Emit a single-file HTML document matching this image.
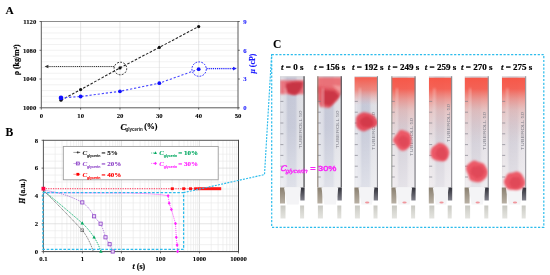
<!DOCTYPE html>
<html><head><meta charset="utf-8"><title>Figure</title><style>
html,body{margin:0;padding:0;background:#fff;}
svg{display:block;}
.tv{font-family:'Liberation Sans',sans-serif;font-size:4.4px;fill:#7c7c86;}
</style></head>
<body><svg width="550" height="275" viewBox="0 0 550 275">
<rect width="550" height="275" fill="#fff"/>
<defs>
<linearGradient id="tb" x1="0" x2="1" y1="0" y2="0">
<stop offset="0" stop-color="#d2d3da"/><stop offset="0.08" stop-color="#e2e3ea"/><stop offset="0.2" stop-color="#d4d6e0"/><stop offset="0.3" stop-color="#c4c7d6"/><stop offset="0.62" stop-color="#c6c9d8"/><stop offset="0.72" stop-color="#dcdde4"/><stop offset="1" stop-color="#e2e2e6"/>
</linearGradient>
<linearGradient id="tbp" x1="0" x2="1" y1="0" y2="0">
<stop offset="0" stop-color="#d6d0d4"/><stop offset="0.08" stop-color="#e6e0e4"/><stop offset="0.2" stop-color="#dcd6dc"/><stop offset="0.3" stop-color="#cecad4"/><stop offset="0.62" stop-color="#d0ccd6"/><stop offset="0.72" stop-color="#e0dce2"/><stop offset="1" stop-color="#e4e0e6"/>
</linearGradient>
<linearGradient id="vshade" x1="0" x2="0" y1="0" y2="1">
<stop offset="0" stop-color="#ffffff" stop-opacity="0"/><stop offset="0.45" stop-color="#ffffff" stop-opacity="0.05"/><stop offset="1" stop-color="#ffffff" stop-opacity="0.45"/>
</linearGradient>
<linearGradient id="rfade" x1="0" x2="0" y1="0" y2="1">
<stop offset="0" stop-color="#f85444" stop-opacity="0.97"/><stop offset="0.17" stop-color="#f65a4c" stop-opacity="0.93"/><stop offset="0.33" stop-color="#f0847a" stop-opacity="0.72"/><stop offset="0.5" stop-color="#e8aaa4" stop-opacity="0.5"/><stop offset="0.75" stop-color="#e0bcbc" stop-opacity="0.3"/><stop offset="1" stop-color="#e0c8c8" stop-opacity="0"/>
</linearGradient>
<linearGradient id="rfade2" x1="0" x2="0" y1="0" y2="1">
<stop offset="0" stop-color="#f85646" stop-opacity="0.95"/><stop offset="0.45" stop-color="#f27468" stop-opacity="0.8"/><stop offset="1" stop-color="#eab0b0" stop-opacity="0"/>
</linearGradient>
<linearGradient id="lg1" x1="0" x2="0" y1="0" y2="1">
<stop offset="0" stop-color="#c8c8c2"/><stop offset="0.5" stop-color="#d8d8d2"/><stop offset="1" stop-color="#e4e4e0"/>
</linearGradient>
<linearGradient id="brn" x1="0" x2="0" y1="0" y2="1">
<stop offset="0" stop-color="#8a8070"/><stop offset="1" stop-color="#b8b0a4"/>
</linearGradient>
<linearGradient id="drk" x1="0" x2="0" y1="0" y2="1">
<stop offset="0" stop-color="#303038"/><stop offset="1" stop-color="#80808a"/>
</linearGradient>
<filter id="bl1" x="-30%" y="-30%" width="160%" height="160%"><feGaussianBlur stdDeviation="0.9"/></filter>
<filter id="bl2" x="-30%" y="-30%" width="160%" height="160%"><feGaussianBlur stdDeviation="0.6"/></filter>
</defs>
<line x1="41.3" y1="102.05" x2="238.0" y2="102.05" stroke="#eaeaea" stroke-width="0.6"/>
<line x1="41.3" y1="96.29" x2="238.0" y2="96.29" stroke="#eaeaea" stroke-width="0.6"/>
<line x1="41.3" y1="90.54" x2="238.0" y2="90.54" stroke="#eaeaea" stroke-width="0.6"/>
<line x1="41.3" y1="84.79" x2="238.0" y2="84.79" stroke="#eaeaea" stroke-width="0.6"/>
<line x1="41.3" y1="79.03" x2="238.0" y2="79.03" stroke="#eaeaea" stroke-width="0.6"/>
<line x1="41.3" y1="73.28" x2="238.0" y2="73.28" stroke="#eaeaea" stroke-width="0.6"/>
<line x1="41.3" y1="67.53" x2="238.0" y2="67.53" stroke="#eaeaea" stroke-width="0.6"/>
<line x1="41.3" y1="61.77" x2="238.0" y2="61.77" stroke="#eaeaea" stroke-width="0.6"/>
<line x1="41.3" y1="56.02" x2="238.0" y2="56.02" stroke="#eaeaea" stroke-width="0.6"/>
<line x1="41.3" y1="50.27" x2="238.0" y2="50.27" stroke="#eaeaea" stroke-width="0.6"/>
<line x1="41.3" y1="44.51" x2="238.0" y2="44.51" stroke="#eaeaea" stroke-width="0.6"/>
<line x1="41.3" y1="38.76" x2="238.0" y2="38.76" stroke="#eaeaea" stroke-width="0.6"/>
<line x1="41.3" y1="33.01" x2="238.0" y2="33.01" stroke="#eaeaea" stroke-width="0.6"/>
<line x1="41.3" y1="27.25" x2="238.0" y2="27.25" stroke="#eaeaea" stroke-width="0.6"/>
<line x1="80.64" y1="21.5" x2="80.64" y2="107.8" stroke="#d6d6d6" stroke-width="0.6"/>
<line x1="119.98" y1="21.5" x2="119.98" y2="107.8" stroke="#d6d6d6" stroke-width="0.6"/>
<line x1="159.32" y1="21.5" x2="159.32" y2="107.8" stroke="#d6d6d6" stroke-width="0.6"/>
<line x1="198.66" y1="21.5" x2="198.66" y2="107.8" stroke="#d6d6d6" stroke-width="0.6"/>
<line x1="41.3" y1="21.5" x2="238.0" y2="21.5" stroke="#808080" stroke-width="0.9"/>
<line x1="41.3" y1="21.1" x2="41.3" y2="107.8" stroke="#4a4a4a" stroke-width="0.9"/>
<line x1="238.0" y1="21.1" x2="238.0" y2="107.8" stroke="#4a4a4a" stroke-width="0.9"/>
<line x1="41.3" y1="107.8" x2="238.4" y2="107.8" stroke="#4a4a4a" stroke-width="0.9"/>
<line x1="39.5" y1="107.80" x2="41.3" y2="107.80" stroke="#444" stroke-width="0.8"/>
<text x="36.30" y="110.10" text-anchor="end" style="font-family:'Liberation Serif', serif;font-size:6.7px;font-weight:bold;fill:#000;stroke:#000;stroke-width:0.1px;" >1000</text>
<line x1="39.5" y1="79.03" x2="41.3" y2="79.03" stroke="#444" stroke-width="0.8"/>
<text x="36.30" y="81.33" text-anchor="end" style="font-family:'Liberation Serif', serif;font-size:6.7px;font-weight:bold;fill:#000;stroke:#000;stroke-width:0.1px;" >1040</text>
<line x1="39.5" y1="50.27" x2="41.3" y2="50.27" stroke="#444" stroke-width="0.8"/>
<text x="36.30" y="52.57" text-anchor="end" style="font-family:'Liberation Serif', serif;font-size:6.7px;font-weight:bold;fill:#000;stroke:#000;stroke-width:0.1px;" >1080</text>
<line x1="39.5" y1="21.50" x2="41.3" y2="21.50" stroke="#444" stroke-width="0.8"/>
<text x="36.30" y="23.80" text-anchor="end" style="font-family:'Liberation Serif', serif;font-size:6.7px;font-weight:bold;fill:#000;stroke:#000;stroke-width:0.1px;" >1120</text>
<line x1="238.0" y1="107.80" x2="239.8" y2="107.80" stroke="#444" stroke-width="0.8"/>
<text x="243.20" y="110.10" text-anchor="start" style="font-family:'Liberation Serif', serif;font-size:6.7px;font-weight:bold;fill:#1a1aff;stroke:#1a1aff;stroke-width:0.1px;" >0</text>
<line x1="238.0" y1="79.03" x2="239.8" y2="79.03" stroke="#444" stroke-width="0.8"/>
<text x="243.20" y="81.33" text-anchor="start" style="font-family:'Liberation Serif', serif;font-size:6.7px;font-weight:bold;fill:#1a1aff;stroke:#1a1aff;stroke-width:0.1px;" >3</text>
<line x1="238.0" y1="50.27" x2="239.8" y2="50.27" stroke="#444" stroke-width="0.8"/>
<text x="243.20" y="52.57" text-anchor="start" style="font-family:'Liberation Serif', serif;font-size:6.7px;font-weight:bold;fill:#1a1aff;stroke:#1a1aff;stroke-width:0.1px;" >6</text>
<line x1="238.0" y1="21.50" x2="239.8" y2="21.50" stroke="#444" stroke-width="0.8"/>
<text x="243.20" y="23.80" text-anchor="start" style="font-family:'Liberation Serif', serif;font-size:6.7px;font-weight:bold;fill:#1a1aff;stroke:#1a1aff;stroke-width:0.1px;" >9</text>
<line x1="41.30" y1="107.8" x2="41.30" y2="109.6" stroke="#444" stroke-width="0.8"/>
<text x="41.30" y="118.10" text-anchor="middle" style="font-family:'Liberation Serif', serif;font-size:6.7px;font-weight:bold;fill:#000;stroke:#000;stroke-width:0.1px;" >0</text>
<line x1="80.64" y1="107.8" x2="80.64" y2="109.6" stroke="#444" stroke-width="0.8"/>
<text x="80.64" y="118.10" text-anchor="middle" style="font-family:'Liberation Serif', serif;font-size:6.7px;font-weight:bold;fill:#000;stroke:#000;stroke-width:0.1px;" >10</text>
<line x1="119.98" y1="107.8" x2="119.98" y2="109.6" stroke="#444" stroke-width="0.8"/>
<text x="119.98" y="118.10" text-anchor="middle" style="font-family:'Liberation Serif', serif;font-size:6.7px;font-weight:bold;fill:#000;stroke:#000;stroke-width:0.1px;" >20</text>
<line x1="159.32" y1="107.8" x2="159.32" y2="109.6" stroke="#444" stroke-width="0.8"/>
<text x="159.32" y="118.10" text-anchor="middle" style="font-family:'Liberation Serif', serif;font-size:6.7px;font-weight:bold;fill:#000;stroke:#000;stroke-width:0.1px;" >30</text>
<line x1="198.66" y1="107.8" x2="198.66" y2="109.6" stroke="#444" stroke-width="0.8"/>
<text x="198.66" y="118.10" text-anchor="middle" style="font-family:'Liberation Serif', serif;font-size:6.7px;font-weight:bold;fill:#000;stroke:#000;stroke-width:0.1px;" >40</text>
<line x1="238.00" y1="107.8" x2="238.00" y2="109.6" stroke="#444" stroke-width="0.8"/>
<text x="238.00" y="118.10" text-anchor="middle" style="font-family:'Liberation Serif', serif;font-size:6.7px;font-weight:bold;fill:#000;stroke:#000;stroke-width:0.1px;" >50</text>
<polyline points="60.97,100.25 80.64,89.61 119.98,67.89 159.32,47.39 198.66,26.53" fill="none" stroke="#222" stroke-width="1.05" stroke-dasharray="2.6,1.6"/>
<polyline points="60.97,97.92 80.64,96.49 119.98,91.31 159.32,83.16 198.66,69.16" fill="none" stroke="#4646ff" stroke-width="1.15" stroke-dasharray="2.2,1.9"/>
<circle cx="60.97" cy="100.25" r="1.6" fill="#111"/>
<circle cx="80.64" cy="89.61" r="1.6" fill="#111"/>
<circle cx="119.98" cy="67.89" r="1.6" fill="#111"/>
<circle cx="159.32" cy="47.39" r="1.6" fill="#111"/>
<circle cx="198.66" cy="26.53" r="1.6" fill="#111"/>
<circle cx="60.97" cy="97.92" r="2.3" fill="#1010ff"/>
<circle cx="80.64" cy="96.49" r="1.9" fill="#1010ff"/>
<circle cx="119.98" cy="91.31" r="1.9" fill="#1010ff"/>
<circle cx="159.32" cy="83.16" r="1.9" fill="#1010ff"/>
<circle cx="198.66" cy="69.16" r="1.9" fill="#1010ff"/>
<circle cx="120.4" cy="68.5" r="6.3" fill="none" stroke="#222" stroke-width="1.0" stroke-dasharray="1.8,1.4"/>
<line x1="114.2" y1="66.5" x2="47" y2="66.5" stroke="#333" stroke-width="1.0" stroke-dasharray="1.1,0.8"/>
<path d="M44.6,66.5 L48.4,64.7 L48.4,68.3 Z" fill="#333"/>
<circle cx="199.1" cy="69.1" r="7.2" fill="none" stroke="#2020ff" stroke-width="1.0" stroke-dasharray="1.7,1.3"/>
<line x1="206.5" y1="68.6" x2="234" y2="68.6" stroke="#2020ff" stroke-width="1.1" stroke-dasharray="1.2,0.9"/>
<path d="M236.8,68.6 L233,66.8 L233,70.4 Z" fill="#2020ff"/>
<text x="5.40" y="14.00" text-anchor="start" style="font-family:'Liberation Serif', serif;font-size:11.4px;font-weight:bold;fill:#000;stroke:#000;stroke-width:0.05px;" >A</text>
<text transform="translate(19.4,59.8) rotate(-90)" text-anchor="middle" style="font-family:'Liberation Serif', serif;font-size:7.9px;font-weight:bold;fill:#000;stroke:#000;stroke-width:0.18px;" >ρ (kg/m<tspan style="font-size:4.8px" dy="-2.8">3</tspan><tspan dy="2.8">)</tspan></text>
<text transform="translate(255.4,63.6) rotate(-90)" text-anchor="middle" style="font-family:'Liberation Serif', serif;font-size:7.9px;font-weight:bold;fill:#1a1aff;stroke:#1a1aff;stroke-width:0.18px;" ><tspan style="font-style:italic">μ</tspan> (cP)</text>
<text x="120.40" y="129.60" text-anchor="start" style="font-family:'Liberation Serif', serif;font-size:8.8px;font-weight:bold;fill:#000;stroke:#000;stroke-width:0.18px;font-style:italic;" >C</text>
<text x="125.60" y="131.00" text-anchor="start" style="font-family:'Liberation Sans', sans-serif;font-size:5.0px;font-weight:bold;fill:#333;stroke:#333;stroke-width:0.1px;" textLength="17.2" lengthAdjust="spacingAndGlyphs">glycerin</text>
<text x="144.20" y="129.30" text-anchor="start" style="font-family:'Liberation Serif', serif;font-size:8.0px;font-weight:bold;fill:#000;stroke:#000;stroke-width:0.18px;" >(%)</text>
<line x1="55.15" y1="140.3" x2="55.15" y2="251.6" stroke="#e6e6e6" stroke-width="0.6"/>
<line x1="62.02" y1="140.3" x2="62.02" y2="251.6" stroke="#e6e6e6" stroke-width="0.6"/>
<line x1="66.89" y1="140.3" x2="66.89" y2="251.6" stroke="#e6e6e6" stroke-width="0.6"/>
<line x1="70.67" y1="140.3" x2="70.67" y2="251.6" stroke="#e6e6e6" stroke-width="0.6"/>
<line x1="73.76" y1="140.3" x2="73.76" y2="251.6" stroke="#e6e6e6" stroke-width="0.6"/>
<line x1="76.38" y1="140.3" x2="76.38" y2="251.6" stroke="#e6e6e6" stroke-width="0.6"/>
<line x1="78.64" y1="140.3" x2="78.64" y2="251.6" stroke="#e6e6e6" stroke-width="0.6"/>
<line x1="80.63" y1="140.3" x2="80.63" y2="251.6" stroke="#e6e6e6" stroke-width="0.6"/>
<line x1="82.42" y1="140.3" x2="82.42" y2="251.6" stroke="#cdcdcd" stroke-width="0.6"/>
<line x1="94.17" y1="140.3" x2="94.17" y2="251.6" stroke="#e6e6e6" stroke-width="0.6"/>
<line x1="101.04" y1="140.3" x2="101.04" y2="251.6" stroke="#e6e6e6" stroke-width="0.6"/>
<line x1="105.91" y1="140.3" x2="105.91" y2="251.6" stroke="#e6e6e6" stroke-width="0.6"/>
<line x1="109.69" y1="140.3" x2="109.69" y2="251.6" stroke="#e6e6e6" stroke-width="0.6"/>
<line x1="112.78" y1="140.3" x2="112.78" y2="251.6" stroke="#e6e6e6" stroke-width="0.6"/>
<line x1="115.40" y1="140.3" x2="115.40" y2="251.6" stroke="#e6e6e6" stroke-width="0.6"/>
<line x1="117.66" y1="140.3" x2="117.66" y2="251.6" stroke="#e6e6e6" stroke-width="0.6"/>
<line x1="119.65" y1="140.3" x2="119.65" y2="251.6" stroke="#e6e6e6" stroke-width="0.6"/>
<line x1="121.44" y1="140.3" x2="121.44" y2="251.6" stroke="#cdcdcd" stroke-width="0.6"/>
<line x1="133.19" y1="140.3" x2="133.19" y2="251.6" stroke="#e6e6e6" stroke-width="0.6"/>
<line x1="140.06" y1="140.3" x2="140.06" y2="251.6" stroke="#e6e6e6" stroke-width="0.6"/>
<line x1="144.93" y1="140.3" x2="144.93" y2="251.6" stroke="#e6e6e6" stroke-width="0.6"/>
<line x1="148.71" y1="140.3" x2="148.71" y2="251.6" stroke="#e6e6e6" stroke-width="0.6"/>
<line x1="151.80" y1="140.3" x2="151.80" y2="251.6" stroke="#e6e6e6" stroke-width="0.6"/>
<line x1="154.42" y1="140.3" x2="154.42" y2="251.6" stroke="#e6e6e6" stroke-width="0.6"/>
<line x1="156.68" y1="140.3" x2="156.68" y2="251.6" stroke="#e6e6e6" stroke-width="0.6"/>
<line x1="158.67" y1="140.3" x2="158.67" y2="251.6" stroke="#e6e6e6" stroke-width="0.6"/>
<line x1="160.46" y1="140.3" x2="160.46" y2="251.6" stroke="#cdcdcd" stroke-width="0.6"/>
<line x1="172.21" y1="140.3" x2="172.21" y2="251.6" stroke="#e6e6e6" stroke-width="0.6"/>
<line x1="179.08" y1="140.3" x2="179.08" y2="251.6" stroke="#e6e6e6" stroke-width="0.6"/>
<line x1="183.95" y1="140.3" x2="183.95" y2="251.6" stroke="#e6e6e6" stroke-width="0.6"/>
<line x1="187.73" y1="140.3" x2="187.73" y2="251.6" stroke="#e6e6e6" stroke-width="0.6"/>
<line x1="190.82" y1="140.3" x2="190.82" y2="251.6" stroke="#e6e6e6" stroke-width="0.6"/>
<line x1="193.44" y1="140.3" x2="193.44" y2="251.6" stroke="#e6e6e6" stroke-width="0.6"/>
<line x1="195.70" y1="140.3" x2="195.70" y2="251.6" stroke="#e6e6e6" stroke-width="0.6"/>
<line x1="197.69" y1="140.3" x2="197.69" y2="251.6" stroke="#e6e6e6" stroke-width="0.6"/>
<line x1="199.48" y1="140.3" x2="199.48" y2="251.6" stroke="#cdcdcd" stroke-width="0.6"/>
<line x1="211.23" y1="140.3" x2="211.23" y2="251.6" stroke="#e6e6e6" stroke-width="0.6"/>
<line x1="218.10" y1="140.3" x2="218.10" y2="251.6" stroke="#e6e6e6" stroke-width="0.6"/>
<line x1="222.97" y1="140.3" x2="222.97" y2="251.6" stroke="#e6e6e6" stroke-width="0.6"/>
<line x1="226.75" y1="140.3" x2="226.75" y2="251.6" stroke="#e6e6e6" stroke-width="0.6"/>
<line x1="229.84" y1="140.3" x2="229.84" y2="251.6" stroke="#e6e6e6" stroke-width="0.6"/>
<line x1="232.46" y1="140.3" x2="232.46" y2="251.6" stroke="#e6e6e6" stroke-width="0.6"/>
<line x1="234.72" y1="140.3" x2="234.72" y2="251.6" stroke="#e6e6e6" stroke-width="0.6"/>
<line x1="236.71" y1="140.3" x2="236.71" y2="251.6" stroke="#e6e6e6" stroke-width="0.6"/>
<line x1="43.4" y1="244.64" x2="238.5" y2="244.64" stroke="#e9e9e9" stroke-width="0.6"/>
<line x1="43.4" y1="237.69" x2="238.5" y2="237.69" stroke="#e9e9e9" stroke-width="0.6"/>
<line x1="43.4" y1="230.73" x2="238.5" y2="230.73" stroke="#e9e9e9" stroke-width="0.6"/>
<line x1="43.4" y1="223.78" x2="238.5" y2="223.78" stroke="#d2d2d2" stroke-width="0.6"/>
<line x1="43.4" y1="216.82" x2="238.5" y2="216.82" stroke="#e9e9e9" stroke-width="0.6"/>
<line x1="43.4" y1="209.86" x2="238.5" y2="209.86" stroke="#e9e9e9" stroke-width="0.6"/>
<line x1="43.4" y1="202.91" x2="238.5" y2="202.91" stroke="#e9e9e9" stroke-width="0.6"/>
<line x1="43.4" y1="195.95" x2="238.5" y2="195.95" stroke="#d2d2d2" stroke-width="0.6"/>
<line x1="43.4" y1="188.99" x2="238.5" y2="188.99" stroke="#e9e9e9" stroke-width="0.6"/>
<line x1="43.4" y1="182.04" x2="238.5" y2="182.04" stroke="#e9e9e9" stroke-width="0.6"/>
<line x1="43.4" y1="175.08" x2="238.5" y2="175.08" stroke="#e9e9e9" stroke-width="0.6"/>
<line x1="43.4" y1="168.12" x2="238.5" y2="168.12" stroke="#d2d2d2" stroke-width="0.6"/>
<line x1="43.4" y1="161.17" x2="238.5" y2="161.17" stroke="#e9e9e9" stroke-width="0.6"/>
<line x1="43.4" y1="154.21" x2="238.5" y2="154.21" stroke="#e9e9e9" stroke-width="0.6"/>
<line x1="43.4" y1="147.26" x2="238.5" y2="147.26" stroke="#e9e9e9" stroke-width="0.6"/>
<line x1="43.4" y1="140.3" x2="238.5" y2="140.3" stroke="#555" stroke-width="1.0"/>
<line x1="43.4" y1="139.8" x2="43.4" y2="251.6" stroke="#444" stroke-width="0.9"/>
<line x1="238.5" y1="139.8" x2="238.5" y2="251.6" stroke="#444" stroke-width="1.0"/>
<line x1="43.4" y1="251.6" x2="239.0" y2="251.6" stroke="#333" stroke-width="0.9"/>
<line x1="41.6" y1="251.60" x2="43.4" y2="251.60" stroke="#444" stroke-width="0.8"/>
<text x="38.10" y="253.90" text-anchor="end" style="font-family:'Liberation Serif', serif;font-size:6.7px;font-weight:bold;fill:#000;stroke:#000;stroke-width:0.1px;" >0</text>
<line x1="41.6" y1="223.78" x2="43.4" y2="223.78" stroke="#444" stroke-width="0.8"/>
<text x="38.10" y="226.08" text-anchor="end" style="font-family:'Liberation Serif', serif;font-size:6.7px;font-weight:bold;fill:#000;stroke:#000;stroke-width:0.1px;" >2</text>
<line x1="41.6" y1="195.95" x2="43.4" y2="195.95" stroke="#444" stroke-width="0.8"/>
<text x="38.10" y="198.25" text-anchor="end" style="font-family:'Liberation Serif', serif;font-size:6.7px;font-weight:bold;fill:#000;stroke:#000;stroke-width:0.1px;" >4</text>
<line x1="41.6" y1="168.12" x2="43.4" y2="168.12" stroke="#444" stroke-width="0.8"/>
<text x="38.10" y="170.43" text-anchor="end" style="font-family:'Liberation Serif', serif;font-size:6.7px;font-weight:bold;fill:#000;stroke:#000;stroke-width:0.1px;" >6</text>
<line x1="41.6" y1="140.30" x2="43.4" y2="140.30" stroke="#444" stroke-width="0.8"/>
<text x="38.10" y="142.60" text-anchor="end" style="font-family:'Liberation Serif', serif;font-size:6.7px;font-weight:bold;fill:#000;stroke:#000;stroke-width:0.1px;" >8</text>
<line x1="43.40" y1="251.6" x2="43.40" y2="253.4" stroke="#444" stroke-width="0.8"/>
<text x="43.40" y="261.40" text-anchor="middle" style="font-family:'Liberation Serif', serif;font-size:6.7px;font-weight:bold;fill:#000;stroke:#000;stroke-width:0.1px;" >0.1</text>
<line x1="82.42" y1="251.6" x2="82.42" y2="253.4" stroke="#444" stroke-width="0.8"/>
<text x="82.42" y="261.40" text-anchor="middle" style="font-family:'Liberation Serif', serif;font-size:6.7px;font-weight:bold;fill:#000;stroke:#000;stroke-width:0.1px;" >1</text>
<line x1="121.44" y1="251.6" x2="121.44" y2="253.4" stroke="#444" stroke-width="0.8"/>
<text x="121.44" y="261.40" text-anchor="middle" style="font-family:'Liberation Serif', serif;font-size:6.7px;font-weight:bold;fill:#000;stroke:#000;stroke-width:0.1px;" >10</text>
<line x1="160.46" y1="251.6" x2="160.46" y2="253.4" stroke="#444" stroke-width="0.8"/>
<text x="160.46" y="261.40" text-anchor="middle" style="font-family:'Liberation Serif', serif;font-size:6.7px;font-weight:bold;fill:#000;stroke:#000;stroke-width:0.1px;" >100</text>
<line x1="199.48" y1="251.6" x2="199.48" y2="253.4" stroke="#444" stroke-width="0.8"/>
<text x="199.48" y="261.40" text-anchor="middle" style="font-family:'Liberation Serif', serif;font-size:6.7px;font-weight:bold;fill:#000;stroke:#000;stroke-width:0.1px;" >1000</text>
<line x1="238.50" y1="251.6" x2="238.50" y2="253.4" stroke="#444" stroke-width="0.8"/>
<text x="238.50" y="261.40" text-anchor="middle" style="font-family:'Liberation Serif', serif;font-size:6.7px;font-weight:bold;fill:#000;stroke:#000;stroke-width:0.1px;" >10000</text>
<rect x="63.3" y="146.4" width="154.9" height="33.4" fill="#fff" stroke="#9a9a9a" stroke-width="0.85"/>
<line x1="43.4" y1="188.7" x2="221" y2="188.7" stroke="#ff5a78" stroke-width="1.2" stroke-dasharray="1.2,1.2"/>
<polyline points="43.60,192.80 130.00,193.00 150.00,193.80 162.00,194.80 168.10,195.80 169.20,203.20 171.40,209.50 175.50,223.60 176.30,237.30 177.10,244.90 177.60,251.40" fill="none" stroke="#ff33ff" stroke-width="0.9" stroke-dasharray="1,1"/>
<path d="M168.10,194.00 L169.60,195.80 L168.10,197.60 L166.60,195.80 Z" fill="#ff22ff"/>
<path d="M169.20,201.40 L170.70,203.20 L169.20,205.00 L167.70,203.20 Z" fill="#ff22ff"/>
<path d="M171.40,207.70 L172.90,209.50 L171.40,211.30 L169.90,209.50 Z" fill="#ff22ff"/>
<path d="M175.50,221.80 L177.00,223.60 L175.50,225.40 L174.00,223.60 Z" fill="#ff22ff"/>
<path d="M176.30,235.50 L177.80,237.30 L176.30,239.10 L174.80,237.30 Z" fill="#ff22ff"/>
<path d="M177.10,243.10 L178.60,244.90 L177.10,246.70 L175.60,244.90 Z" fill="#ff22ff"/>
<path d="M177.60,249.60 L179.10,251.40 L177.60,253.20 L176.10,251.40 Z" fill="#ff22ff"/>
<path d="M43.4,190.5 Q63,209.5 82.3,230.3 Q89,238.5 93.3,251.6" fill="none" stroke="#444" stroke-width="0.8" stroke-dasharray="1.1,0.8"/>
<rect x="80.9" y="228.9" width="2.8" height="2.8" fill="none" stroke="#555" stroke-width="0.6"/>
<path d="M43.4,190.5 Q63,206.5 82.3,223.2 Q89,229.5 94.1,237.4 Q98,243 100.9,251.6" fill="none" stroke="#10b070" stroke-width="1.0" stroke-dasharray="1.3,0.9"/>
<path d="M82.30,221.30 L84.00,224.40 L80.60,224.40 Z" fill="#00a860"/>
<path d="M94.10,235.50 L95.80,238.60 L92.40,238.60 Z" fill="#00a860"/>
<path d="M100.90,249.70 L102.60,252.80 L99.20,252.80 Z" fill="#00a860"/>
<path d="M43.4,190.3 Q64,192.5 82.3,202.4 Q89,207 94.1,216.3 Q97.5,220.5 100.6,223.7 Q103.5,230 105.5,237.3 Q107.5,241 109.6,244.2 Q111.5,248 112.7,251.5" fill="none" stroke="#9a5ad0" stroke-width="0.85" stroke-dasharray="1.1,0.9"/>
<rect x="80.70" y="200.80" width="3.2" height="3.2" fill="#e8d8f4" stroke="#8e44c8" stroke-width="0.8"/>
<rect x="92.50" y="214.70" width="3.2" height="3.2" fill="#e8d8f4" stroke="#8e44c8" stroke-width="0.8"/>
<rect x="99.00" y="222.10" width="3.2" height="3.2" fill="#e8d8f4" stroke="#8e44c8" stroke-width="0.8"/>
<rect x="103.90" y="235.70" width="3.2" height="3.2" fill="#e8d8f4" stroke="#8e44c8" stroke-width="0.8"/>
<rect x="108.00" y="242.60" width="3.2" height="3.2" fill="#e8d8f4" stroke="#8e44c8" stroke-width="0.8"/>
<rect x="111.10" y="249.90" width="3.2" height="3.2" fill="#e8d8f4" stroke="#8e44c8" stroke-width="0.8"/>
<rect x="41.50" y="186.80" width="3.8" height="3.8" fill="#ff0040"/>
<rect x="170.80" y="187.30" width="3.0" height="2.8" fill="#ff1010"/>
<rect x="182.20" y="187.30" width="3.0" height="2.8" fill="#ff1010"/>
<rect x="189.00" y="187.30" width="3.0" height="2.8" fill="#ff1010"/>
<rect x="194.10" y="187.30" width="3.0" height="2.8" fill="#ff1010"/>
<rect x="197.2" y="187.20" width="24.0" height="3.0" fill="#ff1818"/>
<path d="M42.9,192.6 H183.6 V249.3 H42.9 Z" fill="none" stroke="#2cbcec" stroke-width="1.25" stroke-dasharray="2.6,1.6"/>
<polyline points="183.6,192.6 264.5,174.6 271.6,54.8" fill="none" stroke="#2cbcec" stroke-width="1.15" stroke-dasharray="2.0,1.2"/>
<line x1="73.60" y1="152.40" x2="81.00" y2="152.40" stroke="#222" stroke-width="0.7" stroke-dasharray="1,0.8"/>
<path d="M76.5,152.4 h2.6 M77.8,151.1 v2.6" stroke="#222" stroke-width="0.7"/>
<text x="82.40" y="154.80" text-anchor="start" style="font-family:'Liberation Serif', serif;font-size:7.0px;font-weight:bold;fill:#222;stroke:#222;stroke-width:0.05px;font-style:italic;" >C</text>
<text x="86.90" y="156.70" text-anchor="start" style="font-family:'Liberation Sans', sans-serif;font-size:4.3px;font-weight:bold;fill:#222;stroke:#222;stroke-width:0.08px;" textLength="13.6" lengthAdjust="spacingAndGlyphs">glycerin</text>
<text x="101.40" y="154.70" text-anchor="start" style="font-family:'Liberation Serif', serif;font-size:7.0px;font-weight:bold;fill:#222;stroke:#222;stroke-width:0.14px;" >= 5%</text>
<line x1="73.60" y1="163.50" x2="81.00" y2="163.50" stroke="#8e44c8" stroke-width="0.7" stroke-dasharray="1,0.8"/>
<rect x="76.39999999999999" y="162.1" width="2.8" height="2.8" fill="none" stroke="#8e44c8" stroke-width="0.9"/>
<text x="82.40" y="165.90" text-anchor="start" style="font-family:'Liberation Serif', serif;font-size:7.0px;font-weight:bold;fill:#8e44c8;stroke:#8e44c8;stroke-width:0.05px;font-style:italic;" >C</text>
<text x="86.90" y="167.80" text-anchor="start" style="font-family:'Liberation Sans', sans-serif;font-size:4.3px;font-weight:bold;fill:#8e44c8;stroke:#8e44c8;stroke-width:0.08px;" textLength="13.6" lengthAdjust="spacingAndGlyphs">glycerin</text>
<text x="101.40" y="165.80" text-anchor="start" style="font-family:'Liberation Serif', serif;font-size:7.0px;font-weight:bold;fill:#8e44c8;stroke:#8e44c8;stroke-width:0.14px;" >= 20%</text>
<line x1="73.60" y1="174.30" x2="81.00" y2="174.30" stroke="#ff0000" stroke-width="0.7" stroke-dasharray="1,0.8"/>
<rect x="76.39999999999999" y="172.9" width="2.8" height="2.8" fill="#ff0000"/>
<text x="82.40" y="176.70" text-anchor="start" style="font-family:'Liberation Serif', serif;font-size:7.0px;font-weight:bold;fill:#ff0000;stroke:#ff0000;stroke-width:0.05px;font-style:italic;" >C</text>
<text x="86.90" y="178.60" text-anchor="start" style="font-family:'Liberation Sans', sans-serif;font-size:4.3px;font-weight:bold;fill:#ff0000;stroke:#ff0000;stroke-width:0.08px;" textLength="13.6" lengthAdjust="spacingAndGlyphs">glycerin</text>
<text x="101.40" y="176.60" text-anchor="start" style="font-family:'Liberation Serif', serif;font-size:7.0px;font-weight:bold;fill:#ff0000;stroke:#ff0000;stroke-width:0.14px;" >= 40%</text>
<line x1="151.20" y1="153.00" x2="156.90" y2="153.00" stroke="#00a860" stroke-width="0.7" stroke-dasharray="1,0.8"/>
<path d="M155.4,151.3 L156.9,154.0 L153.9,154.0 Z" fill="#00a860"/>
<text x="159.20" y="155.40" text-anchor="start" style="font-family:'Liberation Serif', serif;font-size:7.0px;font-weight:bold;fill:#00a860;stroke:#00a860;stroke-width:0.05px;font-style:italic;" >C</text>
<text x="163.70" y="157.30" text-anchor="start" style="font-family:'Liberation Sans', sans-serif;font-size:4.3px;font-weight:bold;fill:#00a860;stroke:#00a860;stroke-width:0.08px;" textLength="13.6" lengthAdjust="spacingAndGlyphs">glycerin</text>
<text x="178.20" y="155.30" text-anchor="start" style="font-family:'Liberation Serif', serif;font-size:7.0px;font-weight:bold;fill:#00a860;stroke:#00a860;stroke-width:0.14px;" >= 10%</text>
<line x1="151.20" y1="163.40" x2="156.90" y2="163.40" stroke="#ff22ff" stroke-width="0.7" stroke-dasharray="1,0.8"/>
<path d="M155.4,161.70000000000002 L156.9,163.4 L155.4,165.1 L153.9,163.4 Z" fill="#ff22ff"/>
<text x="159.20" y="165.80" text-anchor="start" style="font-family:'Liberation Serif', serif;font-size:7.0px;font-weight:bold;fill:#ff22ff;stroke:#ff22ff;stroke-width:0.05px;font-style:italic;" >C</text>
<text x="163.70" y="167.70" text-anchor="start" style="font-family:'Liberation Sans', sans-serif;font-size:4.3px;font-weight:bold;fill:#ff22ff;stroke:#ff22ff;stroke-width:0.08px;" textLength="13.6" lengthAdjust="spacingAndGlyphs">glycerin</text>
<text x="178.20" y="165.70" text-anchor="start" style="font-family:'Liberation Serif', serif;font-size:7.0px;font-weight:bold;fill:#ff22ff;stroke:#ff22ff;stroke-width:0.14px;" >= 30%</text>
<text x="5.60" y="136.20" text-anchor="start" style="font-family:'Liberation Serif', serif;font-size:11.6px;font-weight:bold;fill:#000;stroke:#000;stroke-width:0.05px;" >B</text>
<text transform="translate(25.4,191.4) rotate(-90)" text-anchor="middle" style="font-family:'Liberation Serif', serif;font-size:7.6px;font-weight:bold;fill:#000;stroke:#000;stroke-width:0.18px;" ><tspan style="font-style:italic">H</tspan> (a.u.)</text>
<text x="132.60" y="269.40" text-anchor="start" style="font-family:'Liberation Serif', serif;font-size:7.9px;font-weight:bold;fill:#000;stroke:#000;stroke-width:0.18px;" ><tspan style="font-style:italic">t</tspan> (s)</text>
<text x="273.00" y="47.80" text-anchor="start" style="font-family:'Liberation Serif', serif;font-size:11.6px;font-weight:bold;fill:#000;stroke:#000;stroke-width:0.05px;" >C</text>
<rect x="271.7" y="54.6" width="272.1" height="172.7" fill="none" stroke="#2cbcec" stroke-width="1.2" stroke-dasharray="2.2,1.6"/>
<text x="292.30" y="70.10" text-anchor="middle" style="font-family:'Liberation Serif', serif;font-size:9px;font-weight:bold;fill:#000;stroke:#000;stroke-width:0.2px;" ><tspan style="font-style:italic">t</tspan> = 0 s</text>
<clipPath id="tc0"><rect x="280.00" y="76.2" width="24.60" height="111.30"/></clipPath>
<g clip-path="url(#tc0)">
<rect x="280.00" y="76.2" width="24.60" height="111.30" fill="url(#tb)"/>
<rect x="280.00" y="76.2" width="24.60" height="111.30" fill="url(#vshade)"/>
<rect x="280.00" y="76.2" width="24.60" height="1.2" fill="#d4d2d6"/>
<rect x="280.00" y="80.2" width="24.60" height="14" fill="#ea6a74" opacity="0.9" filter="url(#bl1)"/>
<path d="M286.00,83.5 Q295.00,80.5 303.00,82 Q303.00,90 296.00,95 Q289.00,95.5 286.00,90 Z" fill="#c63242" opacity="0.95" filter="url(#bl1)"/>
<rect x="284.50" y="88.2" width="2.2" height="97.30" fill="#ffffff" opacity="0.3" filter="url(#bl1)"/>
<text transform="translate(302.00,148.5) rotate(-90)" class="tv" textLength="38" lengthAdjust="spacingAndGlyphs">TUBEROLL 50</text>
</g>
<rect x="303.50" y="76.2" width="1.1" height="111.30" fill="#3c3c40"/>
<line x1="280.40" y1="101.40" x2="283.40" y2="101.40" stroke="#7c7c86" stroke-width="0.65"/>
<line x1="280.40" y1="112.20" x2="283.40" y2="112.20" stroke="#7c7c86" stroke-width="0.65"/>
<line x1="280.40" y1="123.00" x2="283.40" y2="123.00" stroke="#7c7c86" stroke-width="0.65"/>
<line x1="280.40" y1="133.80" x2="283.40" y2="133.80" stroke="#7c7c86" stroke-width="0.65"/>
<line x1="280.40" y1="144.60" x2="283.40" y2="144.60" stroke="#7c7c86" stroke-width="0.65"/>
<line x1="280.40" y1="155.40" x2="283.40" y2="155.40" stroke="#7c7c86" stroke-width="0.65"/>
<line x1="280.40" y1="166.20" x2="283.40" y2="166.20" stroke="#7c7c86" stroke-width="0.65"/>
<line x1="280.40" y1="177.00" x2="283.40" y2="177.00" stroke="#7c7c86" stroke-width="0.65"/>
<rect x="280.00" y="187.5" width="24.60" height="3" fill="#eeeef0"/>
<rect x="280.00" y="187.5" width="5" height="16" fill="url(#brn)"/>
<rect x="300.30" y="187.5" width="4.3" height="13" fill="url(#drk)"/>
<path d="M284.00,187.5 L301.10,187.5 L298.60,204.5 L287.00,204.5 Z" fill="#f4f4f6"/>
<rect x="280.50" y="205.5" width="5" height="13" fill="url(#lg1)"/>
<rect x="300.10" y="205.5" width="4" height="13" fill="url(#lg1)"/>
<text x="329.60" y="70.10" text-anchor="middle" style="font-family:'Liberation Serif', serif;font-size:9px;font-weight:bold;fill:#000;stroke:#000;stroke-width:0.2px;" ><tspan style="font-style:italic">t</tspan> = 156 s</text>
<clipPath id="tc1"><rect x="317.40" y="76.2" width="24.40" height="111.30"/></clipPath>
<g clip-path="url(#tc1)">
<rect x="317.40" y="76.2" width="24.40" height="111.30" fill="url(#tb)"/>
<rect x="317.40" y="76.2" width="24.40" height="111.30" fill="url(#vshade)"/>
<rect x="317.40" y="76.2" width="24.40" height="1.2" fill="#d4d2d6"/>
<rect x="317.40" y="77.2" width="24.40" height="16" fill="#ec6a70" opacity="0.92" filter="url(#bl1)"/>
<path d="M317.40,86 L332.40,88 L341.40,93 L337.40,100 L329.40,108 L320.40,107 L317.40,100 Z" fill="#e25a64" opacity="0.95" filter="url(#bl1)"/>
<path d="M323.40,90 L334.40,91 L339.40,96 L330.40,106 L323.40,104 Z" fill="#c93343" opacity="0.9" filter="url(#bl1)"/>
<path d="M332.40,85 L341.40,86 L341.40,94 Z" fill="#f4a4a4" opacity="0.8" filter="url(#bl1)"/>
<rect x="321.90" y="88.2" width="2.2" height="97.30" fill="#ffffff" opacity="0.3" filter="url(#bl1)"/>
<text transform="translate(339.20,148.5) rotate(-90)" class="tv" textLength="38" lengthAdjust="spacingAndGlyphs">TUBEROLL 50</text>
</g>
<rect x="340.70" y="76.2" width="1.1" height="111.30" fill="#4a4a50"/>
<rect x="317.40" y="76.2" width="0.9" height="111.30" fill="#7a6a5a"/>
<line x1="317.80" y1="101.40" x2="320.80" y2="101.40" stroke="#7c7c86" stroke-width="0.65"/>
<line x1="317.80" y1="112.20" x2="320.80" y2="112.20" stroke="#7c7c86" stroke-width="0.65"/>
<line x1="317.80" y1="123.00" x2="320.80" y2="123.00" stroke="#7c7c86" stroke-width="0.65"/>
<line x1="317.80" y1="133.80" x2="320.80" y2="133.80" stroke="#7c7c86" stroke-width="0.65"/>
<line x1="317.80" y1="144.60" x2="320.80" y2="144.60" stroke="#7c7c86" stroke-width="0.65"/>
<line x1="317.80" y1="155.40" x2="320.80" y2="155.40" stroke="#7c7c86" stroke-width="0.65"/>
<line x1="317.80" y1="166.20" x2="320.80" y2="166.20" stroke="#7c7c86" stroke-width="0.65"/>
<line x1="317.80" y1="177.00" x2="320.80" y2="177.00" stroke="#7c7c86" stroke-width="0.65"/>
<rect x="317.40" y="187.5" width="24.40" height="3" fill="#eeeef0"/>
<rect x="317.40" y="187.5" width="5" height="16" fill="url(#brn)"/>
<rect x="337.50" y="187.5" width="4.3" height="13" fill="url(#drk)"/>
<path d="M321.40,187.5 L338.30,187.5 L335.80,204.5 L324.40,204.5 Z" fill="#f4f4f6"/>
<rect x="317.90" y="205.5" width="5" height="13" fill="url(#lg1)"/>
<rect x="337.30" y="205.5" width="4" height="13" fill="url(#lg1)"/>
<text x="367.70" y="70.10" text-anchor="middle" style="font-family:'Liberation Serif', serif;font-size:9px;font-weight:bold;fill:#000;stroke:#000;stroke-width:0.2px;" ><tspan style="font-style:italic">t</tspan> = 192 s</text>
<clipPath id="tc2"><rect x="354.40" y="76.2" width="23.60" height="111.30"/></clipPath>
<g clip-path="url(#tc2)">
<rect x="354.40" y="76.2" width="23.60" height="111.30" fill="url(#tb)"/>
<rect x="354.40" y="76.2" width="23.60" height="111.30" fill="url(#vshade)"/>
<rect x="354.40" y="76.2" width="23.60" height="1.2" fill="#d4d2d6"/>
<rect x="354.40" y="77.2" width="23.60" height="28" fill="url(#rfade2)"/>
<rect x="358.90" y="88.2" width="2.2" height="97.30" fill="#ffffff" opacity="0.3" filter="url(#bl1)"/>
<text transform="translate(375.40,150.0) rotate(-90)" class="tv" textLength="38" lengthAdjust="spacingAndGlyphs">TUBEROLL 50</text>
</g>
<rect x="376.90" y="76.2" width="1.1" height="111.30" fill="#8a8a90"/>
<line x1="354.80" y1="101.40" x2="357.80" y2="101.40" stroke="#7c7c86" stroke-width="0.65"/>
<line x1="354.80" y1="112.20" x2="357.80" y2="112.20" stroke="#7c7c86" stroke-width="0.65"/>
<line x1="354.80" y1="123.00" x2="357.80" y2="123.00" stroke="#7c7c86" stroke-width="0.65"/>
<line x1="354.80" y1="133.80" x2="357.80" y2="133.80" stroke="#7c7c86" stroke-width="0.65"/>
<line x1="354.80" y1="144.60" x2="357.80" y2="144.60" stroke="#7c7c86" stroke-width="0.65"/>
<line x1="354.80" y1="155.40" x2="357.80" y2="155.40" stroke="#7c7c86" stroke-width="0.65"/>
<line x1="354.80" y1="166.20" x2="357.80" y2="166.20" stroke="#7c7c86" stroke-width="0.65"/>
<line x1="354.80" y1="177.00" x2="357.80" y2="177.00" stroke="#7c7c86" stroke-width="0.65"/>
<rect x="354.40" y="187.5" width="23.60" height="3" fill="#eeeef0"/>
<rect x="354.40" y="187.5" width="5" height="16" fill="url(#brn)"/>
<rect x="373.70" y="187.5" width="4.3" height="13" fill="url(#drk)"/>
<path d="M358.40,187.5 L374.50,187.5 L372.00,204.5 L361.40,204.5 Z" fill="#f4f4f6"/>
<ellipse cx="367.20" cy="202.5" rx="2.2" ry="1.1" fill="#f08088" opacity="0.8" filter="url(#bl2)"/>
<rect x="354.90" y="205.5" width="5" height="13" fill="url(#lg1)"/>
<rect x="373.50" y="205.5" width="4" height="13" fill="url(#lg1)"/>
<clipPath id="tcb2"><rect x="354.70" y="76.2" width="22.40" height="117.30"/></clipPath>
<g clip-path="url(#tcb2)">
<path d="M376.89,119.51 Q378.38,121.50 377.75,123.86 Q377.12,126.21 374.45,127.04 Q371.78,127.87 369.93,128.70 Q368.08,129.53 365.71,130.64 Q363.34,131.76 361.05,130.62 Q358.76,129.49 357.25,127.67 Q355.74,125.85 355.80,123.67 Q355.86,121.50 355.90,119.37 Q355.94,117.24 357.49,115.53 Q359.04,113.82 361.29,112.91 Q363.53,112.00 365.84,112.62 Q368.14,113.25 370.36,113.74 Q372.58,114.24 373.99,115.88 Q375.40,117.52 376.89,119.51 Z" fill="#e4505e" opacity="1.0" filter="url(#bl1)"/>
<path d="M373.08,121.05 Q373.44,122.30 373.29,123.64 Q373.14,124.98 372.17,126.07 Q371.20,127.15 369.66,127.27 Q368.12,127.39 366.83,127.26 Q365.54,127.14 364.17,126.93 Q362.79,126.72 362.00,125.70 Q361.20,124.67 360.32,123.49 Q359.44,122.30 359.92,120.94 Q360.40,119.59 361.44,118.57 Q362.49,117.55 363.89,117.00 Q365.28,116.45 366.82,116.36 Q368.37,116.26 369.43,117.24 Q370.50,118.22 371.61,119.01 Q372.72,119.79 373.08,121.05 Z" fill="#d03444" opacity="0.8" filter="url(#bl1)"/>
</g>
<text x="403.50" y="70.10" text-anchor="middle" style="font-family:'Liberation Serif', serif;font-size:9px;font-weight:bold;fill:#000;stroke:#000;stroke-width:0.2px;" ><tspan style="font-style:italic">t</tspan> = 249 s</text>
<clipPath id="tc3"><rect x="391.40" y="76.2" width="24.20" height="111.30"/></clipPath>
<g clip-path="url(#tc3)">
<rect x="391.40" y="76.2" width="24.20" height="111.30" fill="url(#tbp)"/>
<rect x="391.40" y="76.2" width="24.20" height="111.30" fill="url(#vshade)"/>
<rect x="391.40" y="76.2" width="24.20" height="1.2" fill="#d4d2d6"/>
<rect x="391.40" y="77.7" width="24.20" height="66" fill="url(#rfade)"/>
<rect x="395.90" y="88.2" width="2.2" height="97.30" fill="#ffffff" opacity="0.3" filter="url(#bl1)"/>
<text transform="translate(413.00,156.0) rotate(-90)" class="tv" textLength="38" lengthAdjust="spacingAndGlyphs">TUBEROLL 50</text>
</g>
<rect x="414.50" y="76.2" width="1.1" height="111.30" fill="#7a7a80"/>
<rect x="391.40" y="76.2" width="0.9" height="111.30" fill="#8a9088"/>
<line x1="391.80" y1="101.40" x2="394.80" y2="101.40" stroke="#7c7c86" stroke-width="0.65"/>
<line x1="391.80" y1="112.20" x2="394.80" y2="112.20" stroke="#7c7c86" stroke-width="0.65"/>
<line x1="391.80" y1="123.00" x2="394.80" y2="123.00" stroke="#7c7c86" stroke-width="0.65"/>
<line x1="391.80" y1="133.80" x2="394.80" y2="133.80" stroke="#7c7c86" stroke-width="0.65"/>
<line x1="391.80" y1="144.60" x2="394.80" y2="144.60" stroke="#7c7c86" stroke-width="0.65"/>
<line x1="391.80" y1="155.40" x2="394.80" y2="155.40" stroke="#7c7c86" stroke-width="0.65"/>
<line x1="391.80" y1="166.20" x2="394.80" y2="166.20" stroke="#7c7c86" stroke-width="0.65"/>
<line x1="391.80" y1="177.00" x2="394.80" y2="177.00" stroke="#7c7c86" stroke-width="0.65"/>
<rect x="391.40" y="187.5" width="24.20" height="3" fill="#eeeef0"/>
<rect x="391.40" y="187.5" width="5" height="16" fill="url(#brn)"/>
<rect x="411.30" y="187.5" width="4.3" height="13" fill="url(#drk)"/>
<path d="M395.40,187.5 L412.10,187.5 L409.60,204.5 L398.40,204.5 Z" fill="#f4f4f6"/>
<ellipse cx="404.50" cy="202.5" rx="2.2" ry="1.1" fill="#f08088" opacity="0.8" filter="url(#bl2)"/>
<rect x="391.90" y="205.5" width="5" height="13" fill="url(#lg1)"/>
<rect x="411.10" y="205.5" width="4" height="13" fill="url(#lg1)"/>
<clipPath id="tcb3"><rect x="391.70" y="76.2" width="23.00" height="117.30"/></clipPath>
<g clip-path="url(#tcb3)">
<path d="M411.11,138.45 Q411.21,140.60 411.20,142.80 Q411.19,145.00 409.70,146.55 Q408.22,148.09 406.49,149.38 Q404.76,150.67 402.59,150.71 Q400.42,150.74 398.99,149.04 Q397.55,147.33 396.50,145.80 Q395.45,144.26 393.82,142.43 Q392.18,140.60 393.48,138.60 Q394.78,136.60 396.01,135.02 Q397.24,133.45 398.71,131.38 Q400.18,129.30 402.42,130.12 Q404.67,130.94 406.88,131.44 Q409.09,131.94 410.05,134.12 Q411.01,136.29 411.11,138.45 Z" fill="#ec5a68" opacity="1.0" filter="url(#bl1)"/>
<path d="M408.66,140.08 Q408.78,141.40 408.87,142.82 Q408.96,144.25 408.10,145.39 Q407.25,146.53 406.04,147.33 Q404.84,148.12 403.54,147.48 Q402.23,146.84 401.16,146.33 Q400.08,145.83 399.41,144.81 Q398.74,143.79 398.41,142.59 Q398.08,141.40 397.92,139.95 Q397.76,138.51 398.98,137.82 Q400.20,137.13 401.14,136.21 Q402.09,135.29 403.33,135.60 Q404.58,135.91 405.69,136.39 Q406.79,136.87 407.67,137.82 Q408.54,138.77 408.66,140.08 Z" fill="#de4454" opacity="0.8" filter="url(#bl1)"/>
</g>
<text x="440.50" y="70.10" text-anchor="middle" style="font-family:'Liberation Serif', serif;font-size:9px;font-weight:bold;fill:#000;stroke:#000;stroke-width:0.2px;" ><tspan style="font-style:italic">t</tspan> = 259 s</text>
<clipPath id="tc4"><rect x="428.80" y="76.2" width="23.40" height="111.30"/></clipPath>
<g clip-path="url(#tc4)">
<rect x="428.80" y="76.2" width="23.40" height="111.30" fill="url(#tbp)"/>
<rect x="428.80" y="76.2" width="23.40" height="111.30" fill="url(#vshade)"/>
<rect x="428.80" y="76.2" width="23.40" height="1.2" fill="#d4d2d6"/>
<rect x="428.80" y="77.7" width="23.40" height="66" fill="url(#rfade)"/>
<rect x="433.30" y="88.2" width="2.2" height="97.30" fill="#ffffff" opacity="0.3" filter="url(#bl1)"/>
<text transform="translate(449.60,142.0) rotate(-90)" class="tv" textLength="38" lengthAdjust="spacingAndGlyphs">TUBEROLL 50</text>
</g>
<rect x="451.10" y="76.2" width="1.1" height="111.30" fill="#8a8a90"/>
<line x1="429.20" y1="101.40" x2="432.20" y2="101.40" stroke="#7c7c86" stroke-width="0.65"/>
<line x1="429.20" y1="112.20" x2="432.20" y2="112.20" stroke="#7c7c86" stroke-width="0.65"/>
<line x1="429.20" y1="123.00" x2="432.20" y2="123.00" stroke="#7c7c86" stroke-width="0.65"/>
<line x1="429.20" y1="133.80" x2="432.20" y2="133.80" stroke="#7c7c86" stroke-width="0.65"/>
<line x1="429.20" y1="144.60" x2="432.20" y2="144.60" stroke="#7c7c86" stroke-width="0.65"/>
<line x1="429.20" y1="155.40" x2="432.20" y2="155.40" stroke="#7c7c86" stroke-width="0.65"/>
<line x1="429.20" y1="166.20" x2="432.20" y2="166.20" stroke="#7c7c86" stroke-width="0.65"/>
<line x1="429.20" y1="177.00" x2="432.20" y2="177.00" stroke="#7c7c86" stroke-width="0.65"/>
<rect x="428.80" y="187.5" width="23.40" height="3" fill="#eeeef0"/>
<rect x="428.80" y="187.5" width="5" height="16" fill="url(#brn)"/>
<rect x="447.90" y="187.5" width="4.3" height="13" fill="url(#drk)"/>
<path d="M432.80,187.5 L448.70,187.5 L446.20,204.5 L435.80,204.5 Z" fill="#f4f4f6"/>
<ellipse cx="441.50" cy="202.5" rx="2.2" ry="1.1" fill="#f08088" opacity="0.8" filter="url(#bl2)"/>
<rect x="429.30" y="205.5" width="5" height="13" fill="url(#lg1)"/>
<rect x="447.70" y="205.5" width="4" height="13" fill="url(#lg1)"/>
<clipPath id="tcb4"><rect x="429.10" y="76.2" width="22.20" height="117.30"/></clipPath>
<g clip-path="url(#tcb4)">
<path d="M448.97,150.67 Q449.59,152.60 448.97,154.53 Q448.35,156.46 447.47,158.39 Q446.59,160.31 444.64,160.88 Q442.70,161.45 440.83,161.31 Q438.96,161.16 436.98,160.74 Q435.00,160.32 433.00,158.97 Q430.99,157.62 430.64,155.11 Q430.28,152.60 430.85,150.20 Q431.42,147.80 433.38,146.57 Q435.35,145.33 436.99,143.94 Q438.64,142.54 440.71,142.95 Q442.78,143.37 444.47,144.41 Q446.16,145.46 447.26,147.10 Q448.36,148.73 448.97,150.67 Z" fill="#ec5a68" opacity="1.0" filter="url(#bl1)"/>
<path d="M446.65,152.15 Q446.80,153.40 447.06,154.86 Q447.31,156.32 446.40,157.45 Q445.49,158.58 444.30,159.51 Q443.11,160.43 441.74,159.77 Q440.37,159.11 439.28,158.54 Q438.18,157.96 437.01,157.15 Q435.84,156.35 435.59,154.87 Q435.35,153.40 435.96,152.11 Q436.58,150.83 437.12,149.50 Q437.67,148.16 438.99,147.80 Q440.32,147.44 441.68,147.06 Q443.04,146.69 443.95,147.87 Q444.86,149.06 445.67,149.98 Q446.49,150.90 446.65,152.15 Z" fill="#de4454" opacity="0.8" filter="url(#bl1)"/>
</g>
<text x="476.70" y="70.10" text-anchor="middle" style="font-family:'Liberation Serif', serif;font-size:9px;font-weight:bold;fill:#000;stroke:#000;stroke-width:0.2px;" ><tspan style="font-style:italic">t</tspan> = 270 s</text>
<clipPath id="tc5"><rect x="464.60" y="76.2" width="24.20" height="111.30"/></clipPath>
<g clip-path="url(#tc5)">
<rect x="464.60" y="76.2" width="24.20" height="111.30" fill="url(#tbp)"/>
<rect x="464.60" y="76.2" width="24.20" height="111.30" fill="url(#vshade)"/>
<rect x="464.60" y="76.2" width="24.20" height="1.2" fill="#d4d2d6"/>
<rect x="464.60" y="77.7" width="24.20" height="66" fill="url(#rfade)"/>
<rect x="469.10" y="88.2" width="2.2" height="97.30" fill="#ffffff" opacity="0.3" filter="url(#bl1)"/>
<text transform="translate(486.20,150.0) rotate(-90)" class="tv" textLength="38" lengthAdjust="spacingAndGlyphs">TUBEROLL 50</text>
</g>
<rect x="487.70" y="76.2" width="1.1" height="111.30" fill="#9a9aa0"/>
<line x1="465.00" y1="101.40" x2="468.00" y2="101.40" stroke="#7c7c86" stroke-width="0.65"/>
<line x1="465.00" y1="112.20" x2="468.00" y2="112.20" stroke="#7c7c86" stroke-width="0.65"/>
<line x1="465.00" y1="123.00" x2="468.00" y2="123.00" stroke="#7c7c86" stroke-width="0.65"/>
<line x1="465.00" y1="133.80" x2="468.00" y2="133.80" stroke="#7c7c86" stroke-width="0.65"/>
<line x1="465.00" y1="144.60" x2="468.00" y2="144.60" stroke="#7c7c86" stroke-width="0.65"/>
<line x1="465.00" y1="155.40" x2="468.00" y2="155.40" stroke="#7c7c86" stroke-width="0.65"/>
<line x1="465.00" y1="166.20" x2="468.00" y2="166.20" stroke="#7c7c86" stroke-width="0.65"/>
<line x1="465.00" y1="177.00" x2="468.00" y2="177.00" stroke="#7c7c86" stroke-width="0.65"/>
<rect x="464.60" y="187.5" width="24.20" height="3" fill="#eeeef0"/>
<rect x="464.60" y="187.5" width="5" height="16" fill="url(#brn)"/>
<rect x="484.50" y="187.5" width="4.3" height="13" fill="url(#drk)"/>
<path d="M468.60,187.5 L485.30,187.5 L482.80,204.5 L471.60,204.5 Z" fill="#f4f4f6"/>
<ellipse cx="477.70" cy="202.5" rx="2.2" ry="1.1" fill="#f08088" opacity="0.8" filter="url(#bl2)"/>
<rect x="465.10" y="205.5" width="5" height="13" fill="url(#lg1)"/>
<rect x="484.30" y="205.5" width="4" height="13" fill="url(#lg1)"/>
<clipPath id="tcb5"><rect x="464.90" y="76.2" width="23.00" height="117.30"/></clipPath>
<g clip-path="url(#tcb5)">
<path d="M486.98,169.07 Q488.12,171.10 487.75,173.48 Q487.38,175.87 485.83,177.85 Q484.27,179.83 481.96,181.14 Q479.64,182.45 476.98,182.13 Q474.31,181.81 471.78,180.98 Q469.26,180.15 468.95,177.51 Q468.64,174.86 467.43,172.98 Q466.22,171.10 466.00,168.57 Q465.79,166.05 467.82,164.40 Q469.85,162.75 472.02,161.31 Q474.19,159.88 476.60,161.13 Q479.01,162.39 481.29,162.80 Q483.57,163.20 484.70,165.12 Q485.84,167.03 486.98,169.07 Z" fill="#ec5a68" opacity="1.0" filter="url(#bl1)"/>
<path d="M484.35,170.62 Q485.39,171.90 484.09,173.06 Q482.79,174.22 482.49,175.72 Q482.19,177.22 480.61,177.30 Q479.03,177.39 477.50,178.21 Q475.98,179.02 475.07,177.55 Q474.17,176.08 472.55,175.53 Q470.93,174.98 470.77,173.44 Q470.62,171.90 470.80,170.37 Q470.98,168.84 471.92,167.50 Q472.86,166.16 474.60,166.21 Q476.33,166.25 477.72,166.15 Q479.11,166.05 480.63,166.34 Q482.15,166.63 482.73,167.99 Q483.31,169.35 484.35,170.62 Z" fill="#de4454" opacity="0.8" filter="url(#bl1)"/>
</g>
<text x="516.60" y="70.10" text-anchor="middle" style="font-family:'Liberation Serif', serif;font-size:9px;font-weight:bold;fill:#000;stroke:#000;stroke-width:0.2px;" ><tspan style="font-style:italic">t</tspan> = 275 s</text>
<clipPath id="tc6"><rect x="501.80" y="76.2" width="24.40" height="111.30"/></clipPath>
<g clip-path="url(#tc6)">
<rect x="501.80" y="76.2" width="24.40" height="111.30" fill="url(#tbp)"/>
<rect x="501.80" y="76.2" width="24.40" height="111.30" fill="url(#vshade)"/>
<rect x="501.80" y="76.2" width="24.40" height="1.2" fill="#d4d2d6"/>
<rect x="501.80" y="77.7" width="24.40" height="66" fill="url(#rfade)"/>
<rect x="506.30" y="88.2" width="2.2" height="97.30" fill="#ffffff" opacity="0.3" filter="url(#bl1)"/>
<text transform="translate(523.60,150.0) rotate(-90)" class="tv" textLength="38" lengthAdjust="spacingAndGlyphs">TUBEROLL 50</text>
</g>
<rect x="525.10" y="76.2" width="1.1" height="111.30" fill="#9a9aa0"/>
<line x1="502.20" y1="101.40" x2="505.20" y2="101.40" stroke="#7c7c86" stroke-width="0.65"/>
<line x1="502.20" y1="112.20" x2="505.20" y2="112.20" stroke="#7c7c86" stroke-width="0.65"/>
<line x1="502.20" y1="123.00" x2="505.20" y2="123.00" stroke="#7c7c86" stroke-width="0.65"/>
<line x1="502.20" y1="133.80" x2="505.20" y2="133.80" stroke="#7c7c86" stroke-width="0.65"/>
<line x1="502.20" y1="144.60" x2="505.20" y2="144.60" stroke="#7c7c86" stroke-width="0.65"/>
<line x1="502.20" y1="155.40" x2="505.20" y2="155.40" stroke="#7c7c86" stroke-width="0.65"/>
<line x1="502.20" y1="166.20" x2="505.20" y2="166.20" stroke="#7c7c86" stroke-width="0.65"/>
<line x1="502.20" y1="177.00" x2="505.20" y2="177.00" stroke="#7c7c86" stroke-width="0.65"/>
<rect x="501.80" y="187.5" width="24.40" height="3" fill="#eeeef0"/>
<rect x="501.80" y="187.5" width="5" height="16" fill="url(#brn)"/>
<rect x="521.90" y="187.5" width="4.3" height="13" fill="url(#drk)"/>
<path d="M505.80,187.5 L522.70,187.5 L520.20,204.5 L508.80,204.5 Z" fill="#f4f4f6"/>
<ellipse cx="515.00" cy="202.5" rx="2.2" ry="1.1" fill="#f08088" opacity="0.8" filter="url(#bl2)"/>
<rect x="502.30" y="205.5" width="5" height="13" fill="url(#lg1)"/>
<rect x="521.70" y="205.5" width="4" height="13" fill="url(#lg1)"/>
<clipPath id="tcb6"><rect x="502.10" y="76.2" width="23.20" height="117.30"/></clipPath>
<g clip-path="url(#tcb6)">
<path d="M524.65,179.53 Q525.77,181.60 525.25,183.95 Q524.74,186.29 522.81,187.76 Q520.89,189.23 518.75,189.83 Q516.62,190.43 514.60,190.03 Q512.57,189.63 510.16,189.64 Q507.74,189.66 506.53,187.74 Q505.31,185.81 504.33,183.71 Q503.34,181.60 504.47,179.56 Q505.60,177.52 506.56,175.40 Q507.52,173.28 509.95,173.01 Q512.37,172.74 514.69,171.93 Q517.01,171.12 519.20,172.25 Q521.39,173.37 522.46,175.42 Q523.52,177.46 524.65,179.53 Z" fill="#ec5a68" opacity="1.0" filter="url(#bl1)"/>
<path d="M521.05,181.16 Q521.40,182.40 521.21,183.71 Q521.02,185.02 520.10,186.02 Q519.18,187.02 517.94,187.62 Q516.70,188.22 515.31,188.19 Q513.92,188.15 512.52,187.77 Q511.12,187.39 510.55,186.11 Q509.99,184.83 509.31,183.62 Q508.64,182.40 509.54,181.29 Q510.45,180.18 511.01,179.06 Q511.57,177.95 512.76,177.37 Q513.95,176.79 515.26,176.97 Q516.56,177.16 518.07,177.22 Q519.59,177.28 520.15,178.60 Q520.70,179.92 521.05,181.16 Z" fill="#de4454" opacity="0.8" filter="url(#bl1)"/>
</g>
<text transform="translate(280.2,170.9) skewX(-10)" text-anchor="start" style="font-family:'Liberation Sans', sans-serif;font-size:8.3px;font-weight:normal;fill:#fa22fa;stroke:#fa22fa;stroke-width:0.45px;font-style:italic;" >C</text>
<text transform="translate(285.6,173.4) skewX(-10)" text-anchor="start" style="font-family:'Liberation Sans', sans-serif;font-size:5.9px;font-weight:normal;fill:#fa22fa;stroke:#fa22fa;stroke-width:0.3px;font-style:italic;" textLength="21.6" lengthAdjust="spacingAndGlyphs">glycerin</text>
<text x="310.20" y="170.80" text-anchor="start" style="font-family:'Liberation Sans', sans-serif;font-size:7.5px;font-weight:normal;fill:#fa22fa;stroke:#fa22fa;stroke-width:0.4px;" textLength="26.2" lengthAdjust="spacingAndGlyphs">= 30%</text>
</svg></body></html>
